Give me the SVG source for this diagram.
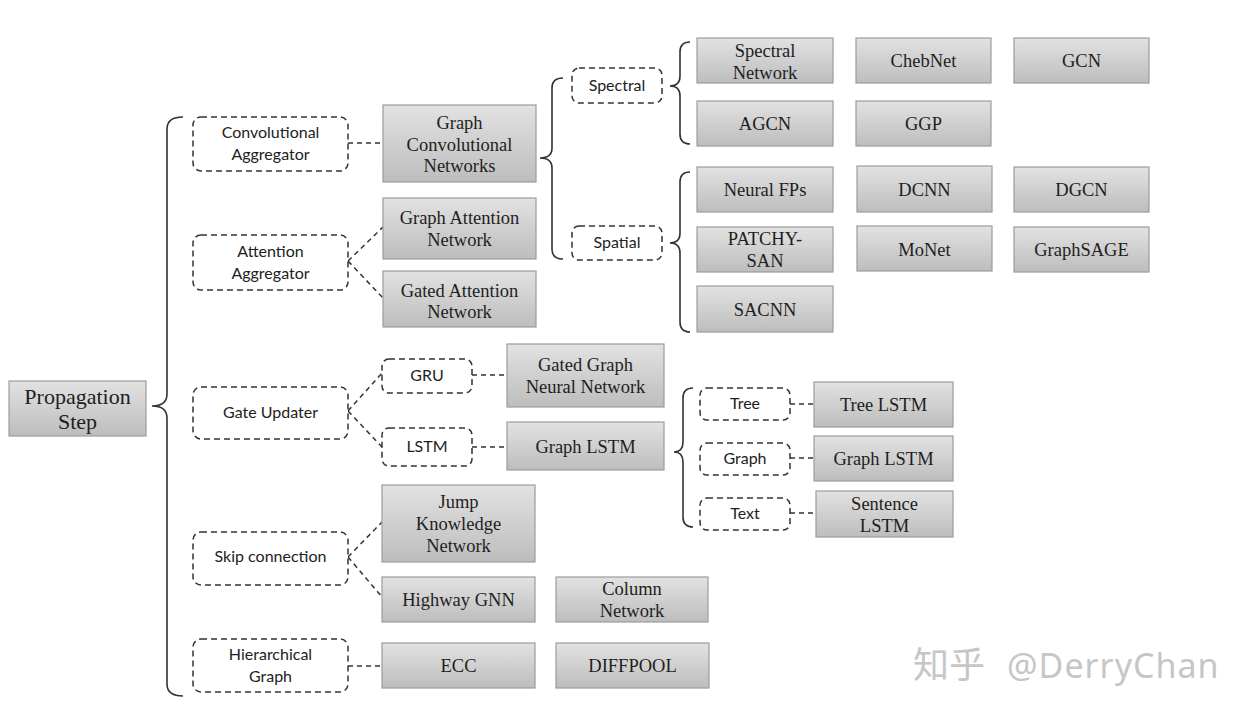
<svg xmlns="http://www.w3.org/2000/svg" width="1250" height="719" viewBox="0 0 1250 719">
<defs>
<linearGradient id="g" x1="0" y1="0" x2="0" y2="1">
<stop offset="0" stop-color="#e2e2e2"/>
<stop offset="1" stop-color="#bdbdbd"/>
</linearGradient>
<style>
.box{fill:url(#g);stroke:#9c9c9c;stroke-width:1.2}
.t{font-family:"Liberation Serif",serif;font-size:18.5px;fill:#1e1e1e;text-anchor:middle}
.tp{font-family:"Liberation Serif",serif;font-size:22px;fill:#1e1e1e;text-anchor:middle}
.db{fill:#fff;stroke:#333;stroke-width:1.5;stroke-dasharray:6 4}
.dt{font-family:Lato,"Liberation Sans",sans-serif;font-size:16px;fill:#222;text-anchor:middle}
.c{fill:none;stroke:#333;stroke-width:1.5;stroke-dasharray:5 4}
.br{fill:none;stroke:#333;stroke-width:1.6}
.wm{font-family:"Noto Sans","Noto Sans CJK SC",sans-serif;fill:#c6c6c6}
</style>
</defs>
<rect width="1250" height="719" fill="#fff"/>

<g id="connectors">
<path class="br" d="M183,117 Q167,117 167,129 L167,394 Q167,406 152,406 Q167,406 167,418 L167,684 Q167,696 183,696"/>
<path class="br" d="M563,78 Q552,78 552,88 L552,148 Q552,158 540,158 Q552,158 552,168 L552,249 Q552,259 563,259"/>
<path class="br" d="M690,42 Q680,42 680,52 L680,76 Q680,86 670,86 Q680,86 680,96 L680,134 Q680,144 690,144"/>
<path class="br" d="M690,172 Q680,172 680,182 L680,233 Q680,243 670,243 Q680,243 680,253 L680,322 Q680,332 690,332"/>
<path class="br" d="M693,388 Q683,388 683,398 L683,442 Q683,452 674,452 Q683,452 683,462 L683,517 Q683,527 693,527"/>
<path class="c" d="M348,143 L383,143"/>
<path class="c" d="M348,261 L383,227 M348,261 L383,298"/>
<path class="c" d="M348,411 L382,373 M348,411 L382,447"/>
<path class="c" d="M472,375 L507,375"/>
<path class="c" d="M472,447 L507,447"/>
<path class="c" d="M348,557 L382,522 M348,557 L382,597"/>
<path class="c" d="M348,666 L382,666"/>
<path class="c" d="M790,404 L814,404"/>
<path class="c" d="M790,458 L814,458"/>
<path class="c" d="M790,513 L816,513"/>
</g>

<g id="prop"><rect class="box" x="9" y="381" width="137" height="55"/><text class="tp" x="77.5" y="404">Propagation</text><text class="tp" x="77.5" y="429">Step</text></g>

<g id="conv-agg"><rect class="db" x="193" y="117" width="155" height="54" rx="8"/><text class="dt" x="270.5" y="138">Convolutional</text><text class="dt" x="270.5" y="160">Aggregator</text></g>
<g id="attn-agg"><rect class="db" x="193" y="235" width="155" height="55" rx="8"/><text class="dt" x="270.5" y="257">Attention</text><text class="dt" x="270.5" y="279">Aggregator</text></g>
<g id="gate-upd"><rect class="db" x="193" y="387" width="155" height="52" rx="8"/><text class="dt" x="270.5" y="418">Gate Updater</text></g>
<g id="skip"><rect class="db" x="193" y="532" width="155" height="53" rx="8"/><text class="dt" x="270.5" y="562">Skip connection</text></g>
<g id="hier"><rect class="db" x="193" y="639" width="155" height="53" rx="8"/><text class="dt" x="270.5" y="660">Hierarchical</text><text class="dt" x="270.5" y="682">Graph</text></g>

<g id="gcn"><rect class="box" x="383" y="105" width="153" height="77"/><text class="t" x="459.5" y="129">Graph</text><text class="t" x="459.5" y="151">Convolutional</text><text class="t" x="459.5" y="172">Networks</text></g>
<g id="gat"><rect class="box" x="383" y="198" width="153" height="61"/><text class="t" x="459.5" y="224">Graph Attention</text><text class="t" x="459.5" y="246">Network</text></g>
<g id="gaan"><rect class="box" x="383" y="271" width="153" height="56"/><text class="t" x="459.5" y="297">Gated Attention</text><text class="t" x="459.5" y="318">Network</text></g>

<g id="spectral"><rect class="db" x="572" y="68" width="90" height="35" rx="7"/><text class="dt" x="617" y="91">Spectral</text></g>
<g id="spatial"><rect class="db" x="572" y="226" width="90" height="34" rx="7"/><text class="dt" x="617" y="248">Spatial</text></g>

<g id="specnet"><rect class="box" x="697" y="38" width="136" height="45"/><text class="t" x="765" y="57">Spectral</text><text class="t" x="765" y="79">Network</text></g>
<g id="chebnet"><rect class="box" x="856" y="38" width="135" height="45"/><text class="t" x="923.5" y="67">ChebNet</text></g>
<g id="gcn2"><rect class="box" x="1014" y="38" width="135" height="45"/><text class="t" x="1081.5" y="67">GCN</text></g>
<g id="agcn"><rect class="box" x="697" y="101" width="136" height="45"/><text class="t" x="765" y="130">AGCN</text></g>
<g id="ggp"><rect class="box" x="856" y="101" width="135" height="45"/><text class="t" x="923.5" y="130">GGP</text></g>
<g id="nfp"><rect class="box" x="697" y="167" width="136" height="45"/><text class="t" x="765" y="196">Neural FPs</text></g>
<g id="dcnn"><rect class="box" x="857" y="166" width="135" height="46"/><text class="t" x="924.5" y="196">DCNN</text></g>
<g id="dgcn"><rect class="box" x="1014" y="167" width="135" height="45"/><text class="t" x="1081.5" y="196">DGCN</text></g>
<g id="patchy"><rect class="box" x="697" y="227" width="136" height="45"/><text class="t" x="765" y="245">PATCHY-</text><text class="t" x="765" y="267">SAN</text></g>
<g id="monet"><rect class="box" x="857" y="226" width="135" height="45"/><text class="t" x="924.5" y="256">MoNet</text></g>
<g id="graphsage"><rect class="box" x="1014" y="227" width="135" height="45"/><text class="t" x="1081.5" y="256">GraphSAGE</text></g>
<g id="sacnn"><rect class="box" x="697" y="286" width="136" height="46"/><text class="t" x="765" y="316">SACNN</text></g>

<g id="gru"><rect class="db" x="382" y="359" width="90" height="34" rx="7"/><text class="dt" x="427" y="381">GRU</text></g>
<g id="lstm"><rect class="db" x="382" y="428" width="90" height="38" rx="7"/><text class="dt" x="427" y="452">LSTM</text></g>
<g id="ggnn"><rect class="box" x="507" y="344" width="157" height="63"/><text class="t" x="585.5" y="371">Gated Graph</text><text class="t" x="585.5" y="393">Neural Network</text></g>
<g id="glstm"><rect class="box" x="507" y="422" width="157" height="48"/><text class="t" x="585.5" y="453">Graph LSTM</text></g>

<g id="tree"><rect class="db" x="700" y="388" width="90" height="32" rx="7"/><text class="dt" x="745" y="409">Tree</text></g>
<g id="graph"><rect class="db" x="700" y="443" width="90" height="32" rx="7"/><text class="dt" x="745" y="464">Graph</text></g>
<g id="text"><rect class="db" x="700" y="498" width="90" height="32" rx="7"/><text class="dt" x="745" y="519">Text</text></g>
<g id="treelstm"><rect class="box" x="814" y="382" width="139" height="45"/><text class="t" x="883.5" y="411">Tree LSTM</text></g>
<g id="graphlstm2"><rect class="box" x="814" y="436" width="139" height="45"/><text class="t" x="883.5" y="465">Graph LSTM</text></g>
<g id="sentlstm"><rect class="box" x="816" y="491" width="137" height="46"/><text class="t" x="884.5" y="510">Sentence</text><text class="t" x="884.5" y="532">LSTM</text></g>

<g id="jkn"><rect class="box" x="382" y="485" width="153" height="77"/><text class="t" x="458.5" y="508">Jump</text><text class="t" x="458.5" y="530">Knowledge</text><text class="t" x="458.5" y="552">Network</text></g>
<g id="hgnn"><rect class="box" x="382" y="577" width="153" height="45"/><text class="t" x="458.5" y="606">Highway GNN</text></g>
<g id="colnet"><rect class="box" x="556" y="577" width="152" height="45"/><text class="t" x="632" y="595">Column</text><text class="t" x="632" y="617">Network</text></g>
<g id="ecc"><rect class="box" x="382" y="643" width="153" height="45"/><text class="t" x="458.5" y="672">ECC</text></g>
<g id="diffpool"><rect class="box" x="556" y="643" width="153" height="45"/><text class="t" x="632.5" y="672">DIFFPOOL</text></g>

<text class="wm" y="678"><tspan x="913" font-size="36" font-family="'Noto Sans CJK SC',sans-serif">知乎</tspan><tspan x="1007" font-size="34" letter-spacing="1">@DerryChan</tspan></text>
</svg>
